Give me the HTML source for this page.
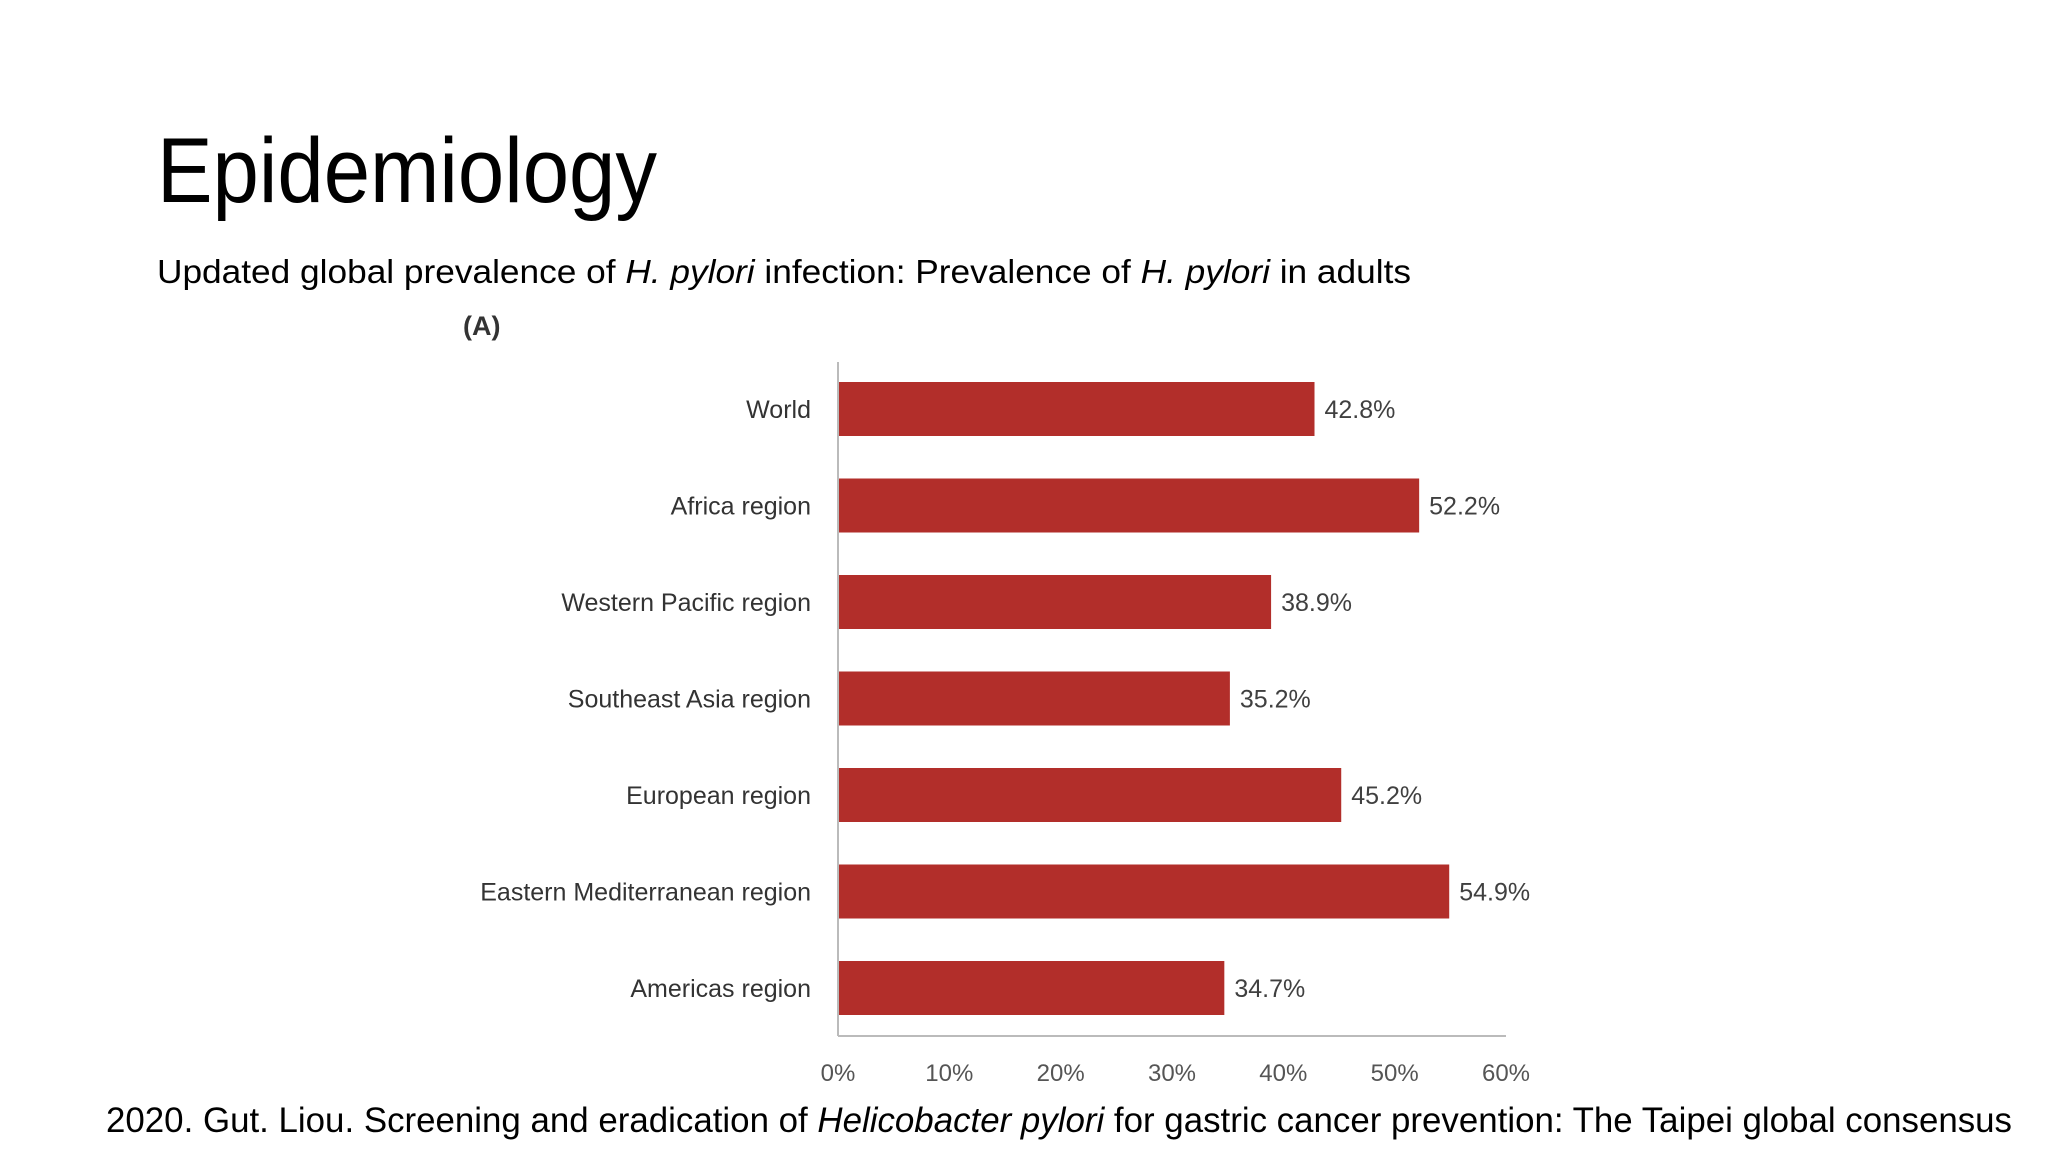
<!DOCTYPE html>
<html><head><meta charset="utf-8"><style>
html,body{margin:0;padding:0;background:#fff;}
svg{display:block;font-family:"Liberation Sans",sans-serif;}
</style></head><body>
<svg width="2048" height="1152" viewBox="0 0 2048 1152">
<text x="157" y="202" font-size="92" fill="#000" textLength="500" lengthAdjust="spacingAndGlyphs">Epidemiology</text>
<text x="157" y="283" font-size="33" fill="#000" textLength="1254" lengthAdjust="spacingAndGlyphs">Updated global prevalence of <tspan font-style="italic">H. pylori</tspan> infection: Prevalence of <tspan font-style="italic">H. pylori</tspan> in adults</text>
<text x="463" y="335" font-size="27" font-weight="bold" fill="#333">(A)</text>
<g id="chart"></g>
<text x="106" y="1132" font-size="35" fill="#000" textLength="1906" lengthAdjust="spacingAndGlyphs">2020. Gut. Liou. Screening and eradication of <tspan font-style="italic">Helicobacter pylori</tspan> for gastric cancer prevention: The Taipei global consensus</text>
</svg>
<script>
const categories = ["World","Africa region","Western Pacific region","Southeast Asia region","European region","Eastern Mediterranean region","Americas region"];
const values = [42.8,52.2,38.9,35.2,45.2,54.9,34.7];
const tickValues = [0,10,20,30,40,50,60];
const tickLabels = ["0%","10%","20%","30%","40%","50%","60%"];

const NS="http://www.w3.org/2000/svg";
const g=document.getElementById('chart');
const x0=838, x1=1506, xMax=60;
const xs=v=>x0+(x1-x0)*v/xMax;
const top0=382, pitch=96.5, bh=54;
const ys=i=>top0+i*pitch;
function mk(t,a){const e=document.createElementNS(NS,t);for(const k in a)e.setAttribute(k,a[k]);g.appendChild(e);return e;}
let e;
e=mk('line',{x1:x0,y1:362,x2:x0,y2:1036,stroke:'#bbb','stroke-width':2});


e=mk('line',{x1:x0,y1:1036,x2:x1,y2:1036,stroke:'#bbb','stroke-width':2});


categories.forEach((c,i)=>{
  const y=ys(i);
  let r=mk('rect',{x:x0+1,y:y,width:xs(values[i])-x0-1,height:bh,fill:'#b22e2a'});
  
  
  let t=mk('text',{x:811,y:y+bh/2+9,'text-anchor':'end','font-size':25,fill:'#333'});
  t.textContent=c;
  
  
  let v=mk('text',{x:xs(values[i])+10,y:y+bh/2+9,'font-size':25,fill:'#404040'});
  v.textContent=values[i].toFixed(1)+'%';
  
  
});
tickValues.forEach((tv,i)=>{
  let t=mk('text',{x:xs(tv),y:1081,'text-anchor':'middle','font-size':24,fill:'#555'});
  t.textContent=tickLabels[i];
  
  
});
</script>
</body></html>
